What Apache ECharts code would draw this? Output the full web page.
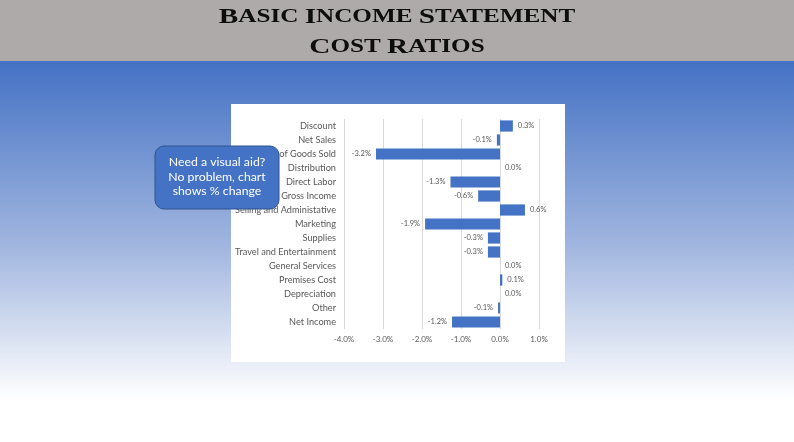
<!DOCTYPE html>
<html>
<head>
<meta charset="utf-8">
<script src="https://cdn.jsdelivr.net/npm/echarts@6/dist/echarts.min.js"></script>
<style>
html,body{margin:0;padding:0;background:#fff;}
#c{width:794px;height:442px;}
</style>
</head>
<body>
<div id="c"></div>
<script>
const categories = ['Discount','Net Sales','Cost of Goods Sold','Distribution','Direct Labor','Gross Income','Selling and Administative','Marketing','Supplies','Travel and Entertainment','General Services','Premises Cost','Depreciation','Other','Net Income'];
const changePct = [0.33,-0.08,-3.18,0.0,-1.27,-0.56,0.64,-1.92,-0.31,-0.31,0.0,0.06,0.0,-0.05,-1.23];
const titleLines = ['BASIC INCOME STATEMENT','COST RATIOS'];
const calloutText = ['Need a visual aid?','No problem, chart','shows % change'];

function smallCaps(line){
  return line.split(' ').map(w => '{b|' + w[0] + '}{s|' + w.slice(1) + '}').join('{s| }');
}
const titleRich = {
  b:{fontFamily:'Liberation Serif',fontWeight:'bold',fontSize:21.5,fill:'#0d0d0d'},
  s:{fontFamily:'Liberation Serif',fontWeight:'bold',fontSize:18.5,fill:'#0d0d0d'}
};

const chart = echarts.init(document.getElementById('c'));
chart.setOption({
  animation:false,
  graphic:[
    {type:'rect', z:-10, shape:{x:0,y:0,width:794,height:61}, style:{fill:'#aeaaaa'}},
    {type:'rect', z:-10, shape:{x:0,y:61,width:794,height:381}, style:{fill:new echarts.graphic.LinearGradient(0,0,0,1,[{offset:0,color:'#4472c4'},{offset:0.5,color:'#a4b8e0'},{offset:0.89,color:'#ffffff'},{offset:1,color:'#ffffff'}])}},
    {type:'rect', z:-9, shape:{x:231,y:104,width:334,height:258}, style:{fill:'#ffffff'}},
    {type:'text', z:10, x:397, y:17.5, scaleX:1.36, style:{text:smallCaps(titleLines[0]), rich:titleRich, align:'center', verticalAlign:'middle'}},
    {type:'text', z:10, x:397, y:47.5, scaleX:1.36, style:{text:smallCaps(titleLines[1]), rich:titleRich, align:'center', verticalAlign:'middle'}},
    {type:'rect', z:100, zlevel:1, shape:{x:155,y:146,width:124,height:63,r:9}, style:{fill:'#4472c4',stroke:'#2f528f',lineWidth:1}},
    {type:'text', z:101, zlevel:1, x:217, y:177, style:{text:calloutText.join('\n'), fill:'#ffffff', fontFamily:'Lato', fontSize:12.3, lineHeight:14.5, align:'center', verticalAlign:'middle'}}
  ],
  grid:{left:344,right:255,top:119,bottom:113,containLabel:false},
  xAxis:{type:'value',min:-4,max:1,interval:1,
    axisLine:{show:false},axisTick:{show:false},
    splitLine:{lineStyle:{color:'#d9d9d9',width:1}},
    axisLabel:{formatter:v=>v.toFixed(1)+'%',color:'#595959',fontFamily:'Lato',fontSize:8,margin:6}},
  yAxis:{type:'category',data:categories,inverse:true,
    axisLine:{show:false},axisTick:{show:false},
    axisLabel:{color:'#595959',fontFamily:'Lato',fontSize:9.2,margin:8}},
  series:[{type:'bar',barCategoryGap:'20%',
    data:changePct.map(v=>({value:v,label:{position:v<0?'left':'right'}})),
    itemStyle:{color:'#4472c4'},
    label:{show:true,distance:5,color:'#595959',fontFamily:'Lato',fontSize:7.5,formatter:p=>p.value.toFixed(1)+'%'}
  }]
});
</script>
</body>
</html>
